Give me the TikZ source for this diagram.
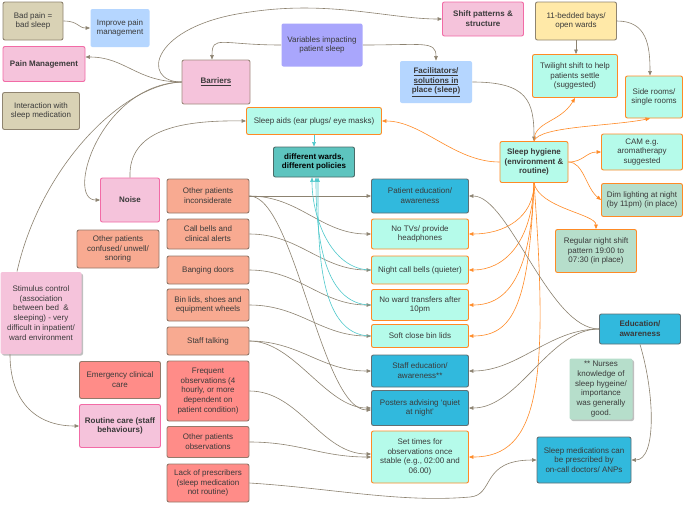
\documentclass[tikz,border=0pt]{standalone}
\usepackage{fontspec}
\setmainfont{Liberation Sans}
\usepackage{tikz}
\usetikzlibrary{arrows.meta,shadows}
\definecolor{tanfill}{HTML}{D9D2B5}
\definecolor{tanline}{HTML}{8F8470}
\definecolor{skyfill}{HTML}{B5D6FF}
\definecolor{pinkfill}{HTML}{F5C3DB}
\definecolor{hotpink}{HTML}{F26BA6}
\definecolor{mauveline}{HTML}{A08C80}
\definecolor{violetfill}{HTML}{A9A6FC}
\definecolor{sandfill}{HTML}{FFE9A8}
\definecolor{aquafill}{HTML}{B5FBEA}
\definecolor{tangerine}{HTML}{FF8A25}
\definecolor{tealfill}{HTML}{5DC4BF}
\definecolor{tealline}{HTML}{4A6B68}
\definecolor{sagefill}{HTML}{B6DECB}
\definecolor{salmonfill}{HTML}{F8AA91}
\definecolor{salmonline}{HTML}{94796A}
\definecolor{redfill}{HTML}{FF8C88}
\definecolor{cyanfill}{HTML}{31B9DD}
\definecolor{slateline}{HTML}{5F6F74}
\definecolor{wire}{HTML}{8C8270}
\definecolor{aquawire}{HTML}{4FC9CC}
\definecolor{ink}{HTML}{3A3A3A}
\tikzset{card/.style={rounded corners=2pt,align=center,font=\fontsize{8}{9.8}\selectfont,text=ink,inner sep=1pt,line width=0.9pt}, sz/.style 2 args={minimum width=#1,minimum height=#2}, bold/.style={font=\fontsize{8}{9.8}\selectfont\bfseries}, tancard/.style={card,draw=tanline,fill=tanfill}, skycard/.style={card,fill=skyfill}, keycard/.style={card,bold,draw=hotpink,fill=pinkfill}, pinkcard/.style={card,draw=mauveline,fill=pinkfill}, aquacard/.style={card,draw=tangerine,fill=aquafill}, sagecard/.style={card,draw=tangerine,fill=sagefill}, salmoncard/.style={card,draw=salmonline,fill=salmonfill}, redcard/.style={card,draw=salmonline,fill=redfill}, bluecard/.style={card,draw=slateline,fill=cyanfill}, note/.style={card,drop shadow={shadow xshift=1.5pt,shadow yshift=-1.5pt,opacity=.25,fill=black}}, flow/.style={-{Triangle[length=4.5pt,width=3.6pt]},line width=0.6pt,draw=wire}, hyg/.style={flow,draw=tangerine}, ward/.style={flow,draw=aquawire}, link/.style={line width=0.6pt,draw=wire}}

\begin{document}
\begin{tikzpicture}[x=1pt,y=-1pt]
\useasboundingbox[fill=white] (0,0) rectangle (685,504);
% left side
\node[tancard,sz={60}{38}] (badpain) at (33,21) {Bad pain =\\bad sleep};
\node[skycard,sz={59}{38}] (improve) at (120,28) {Improve pain\\management};
\node[keycard,sz={82}{35}] (painmgmt) at (44,64) {Pain Management};
\node[tancard,sz={77}{37}] (interact) at (41,111) {Interaction with\\sleep medication};
\node[pinkcard,bold,sz={68}{44}] (barriers) at (216,82) {\underline{Barriers}};
\node[card,fill=violetfill,sz={81}{43}] (variables) at (322,45) {Variables impacting\\patient sleep};
\node[skycard,bold,sz={72}{42}] (facil) at (436,82) {\underline{Facilitators/}\\\underline{solutions in}\\\underline{place (sleep)}};
\node[keycard,sz={81}{34}] (shift) at (483,19) {Shift patterns \&\\structure};
\node[card,draw=tanline,fill=sandfill,sz={81}{38}] (bays) at (576,21) {11-bedded bays/\\open wards};
\node[aquacard,sz={85}{43}] (twilight) at (575,76) {Twilight shift to help\\patients settle\\(suggested)};
\node[aquacard,sz={57}{42}] (side) at (654,97) {Side rooms/\\single rooms};
\node[aquacard,sz={135}{27}] (aids) at (314,121) {Sleep aids (ear plugs/ eye masks)};
\node[card,bold,draw=tealline,fill=tealfill,text=black,sz={81}{30}] (wards) at (314,162) {different wards,\\different policies};
\node[aquacard,bold,sz={68}{41}] (hygiene) at (534,162) {Sleep hygiene\\(environment \&\\routine)};
\node[aquacard,sz={81}{36}] (cam) at (642,152) {CAM e.g.\\aromatherapy\\suggested};
\node[sagecard,sz={81}{33}] (dim) at (642,200) {Dim lighting at night\\(by 11pm) (in place)};
\node[sagecard,sz={81}{43}] (regular) at (596,251) {Regular night shift\\pattern 19:00 to\\07:30 (in place)};
\node[keycard,sz={59}{44}] (noise) at (130,200) {Noise};
\node[salmoncard,sz={82}{38}] (confused) at (118,249) {Other patients\\confused/ unwell/\\snoring};
\node[note,fill=pinkfill,sz={81}{82}] (stimulus) at (41,313) {Stimulus control\\(association\\between bed \ \&\\sleeping) - very\\difficult in inpatient/\\ward environment};
\node[redcard,sz={81}{37}] (emergency) at (120,380) {Emergency clinical\\care};
\node[keycard,sz={81}{43}] (routine) at (120,426) {Routine care (staff\\behaviours)};
% causes
\node[salmoncard,sz={82}{34}] (inconsid) at (208,196) {Other patients\\inconsiderate};
\node[salmoncard,sz={82}{30}] (callbells) at (208,234) {Call bells and\\clinical alerts};
\node[salmoncard,sz={82}{28}] (banging) at (208,270) {Banging doors};
\node[salmoncard,sz={82}{32}] (binlids) at (208,305) {Bin lids, shoes and\\equipment wheels};
\node[salmoncard,sz={82}{28}] (talking) at (208,341) {Staff talking};
\node[redcard,sz={82}{60}] (frequent) at (208,391) {Frequent\\observations (4\\hourly, or more\\dependent on\\patient condition)};
\node[redcard,sz={82}{31}] (otherobs) at (208,442) {Other patients\\observations};
\node[redcard,sz={82}{38}] (lackpresc) at (208,483) {Lack of prescribers\\(sleep medication\\not routine)};
% solutions
\node[bluecard,sz={97}{34}] (pateduc) at (420,196) {Patient education/\\awareness};
\node[aquacard,sz={97}{30}] (notv) at (420,234) {No TVs/ provide\\headphones};
\node[aquacard,sz={97}{28}] (nightbells) at (420,270) {Night call bells (quieter)};
\node[aquacard,sz={97}{31}] (notransfer) at (420,305) {No ward transfers after\\10pm};
\node[aquacard,sz={97}{23}] (softclose) at (420,336) {Soft close bin lids};
\node[bluecard,sz={97}{32}] (staffeduc) at (420,371) {Staff education/\\awareness**};
\node[bluecard,sz={97}{35}] (posters) at (420,408) {Posters advising ‘quiet\\at night’};
\node[aquacard,sz={97}{52}] (settimes) at (420,457) {Set times for\\observations once\\stable (e.g., 02:00 and\\06.00)};
\node[bluecard,bold,sz={81}{30}] (education) at (640,329) {Education/\\awareness};
\node[note,fill=sagefill,sz={63}{61}] (nurses) at (601,389) {** Nurses\\knowledge of\\sleep hygeine/\\importance\\was generally\\good.};
\node[bluecard,sz={94}{46}] (sleepmeds) at (584,460) {Sleep medications can\\be prescribed by\\on-call doctors/ ANPs};
% grey links
\draw[flow] (badpain.east) .. controls +(15,0) and +(-12,0) .. (improve.west);
\draw[flow] (barriers.west) .. controls +(-45,0) and +(40,0) .. ([yshift=7pt]painmgmt.east);
\draw[flow] (barriers.west) .. controls (140,82) and (150,25) .. (250,12) .. controls (330,0) and (390,19) .. (shift.west);
\draw[flow] (variables.west) .. controls +(-60,0) and +(0,-25) .. ([xshift=-4pt]barriers.north);
\draw[flow] (variables.east) .. controls +(60,0) and +(0,-20) .. (facil.north);
\draw[flow] (barriers.west) .. controls +(-82,3) and +(-35,0) .. (noise.west);
\draw[link] (barriers.west) .. controls +(-62,3) and +(23,-102) .. ([xshift=-24pt]stimulus.north);
\draw[flow] (noise.north) .. controls +(-2,-47) and +(-67,-1) .. (aids.west);
\draw[flow] ([xshift=-31pt]stimulus.south) .. controls +(0,45) and +(-45,0) .. (routine.west);
\draw[flow] (facil.east) .. controls +(55,0) and +(0,-40) .. (hygiene.north);
\draw[flow] (bays.south) -- (bays.south |- twilight.north);
\draw[flow] (bays.east) .. controls +(30,0) and +(0,-30) .. ([xshift=-4pt]side.north);
% sleep hygiene
\draw[hyg] (hygiene.north) .. controls +(0,-20) and +(-15,25) .. (twilight.south);
\draw[hyg] (hygiene.north) .. controls +(5,-15) and +(-40,8) .. ([xshift=-4pt]side.south);
\draw[hyg] (hygiene.east) .. controls +(15,0) and +(-15,0) .. (cam.west);
\draw[hyg] (hygiene.east) .. controls +(15,0) and +(-15,-12) .. (dim.west);
\draw[hyg] (hygiene.south) .. controls +(5,25) and +(0,-15) .. (regular.north);
\draw[hyg] (hygiene.west) .. controls +(-45,0) and +(40,0) .. (aids.east);
\draw[hyg] (hygiene.south) .. controls +(0,35) and +(35,0) .. (notv.east);
\draw[hyg] (hygiene.south) .. controls +(-2,60) and +(35,0) .. (nightbells.east);
\draw[hyg] (hygiene.south) .. controls +(-3,90) and +(40,0) .. (notransfer.east);
\draw[hyg] (hygiene.south) .. controls +(-5,120) and +(45,0) .. (softclose.east);
\draw[hyg] (hygiene.south) .. controls +(15,200) and +(70,0) .. (settimes.east);
% causes to solutions
\draw[flow] (inconsid.east) -- (pateduc.west);
\draw[flow] (inconsid.east) .. controls +(50,0) and +(-50,0) .. (notv.west);
\draw[flow] (inconsid.east) .. controls +(45,0) and +(-50,0) .. ([yshift=-2pt]posters.west);
\draw[flow] (callbells.east) .. controls +(50,0) and +(-50,0) .. (nightbells.west);
\draw[flow] (banging.east) .. controls +(50,0) and +(-50,0) .. (notransfer.west);
\draw[flow] (binlids.east) .. controls +(50,0) and +(-50,0) .. (softclose.west);
\draw[flow] (talking.east) .. controls +(50,0) and +(-50,0) .. (staffeduc.west);
\draw[flow] (talking.east) .. controls +(45,0) and +(-45,0) .. (posters.west);
\draw[flow] (frequent.east) .. controls +(50,0) and +(-50,0) .. ([yshift=3pt]settimes.west);
\draw[flow] (otherobs.east) .. controls +(50,0) and +(-50,0) .. (settimes.west);
\draw[flow] (lackpresc.east) .. controls (330,488) and (400,503) .. (470,497) .. controls (495,495) and (480,460) .. (sleepmeds.west);
% education
\draw[flow] (education.west) .. controls +(-50,0) and +(40,0) .. (pateduc.east);
\draw[flow] (education.west) .. controls +(-50,0) and +(50,0) .. (staffeduc.east);
\draw[flow] (education.west) .. controls +(-50,0) and +(50,0) .. (posters.east);
\draw[flow] (education.south) .. controls +(15,50) and +(25,0) .. (sleepmeds.east);
% ward policies
\draw[ward] (aids.south) -- (wards.north);
\draw[ward] (nightbells.west) .. controls +(-40,0) and +(0,40) .. ([xshift=-2pt]wards.south);
\draw[ward] (notransfer.west) .. controls +(-50,0) and +(0,50) .. ([xshift=2pt]wards.south);
\draw[ward] (softclose.west) .. controls +(-55,0) and +(0,60) .. ([xshift=4pt]wards.south);
\end{tikzpicture}
\end{document}
